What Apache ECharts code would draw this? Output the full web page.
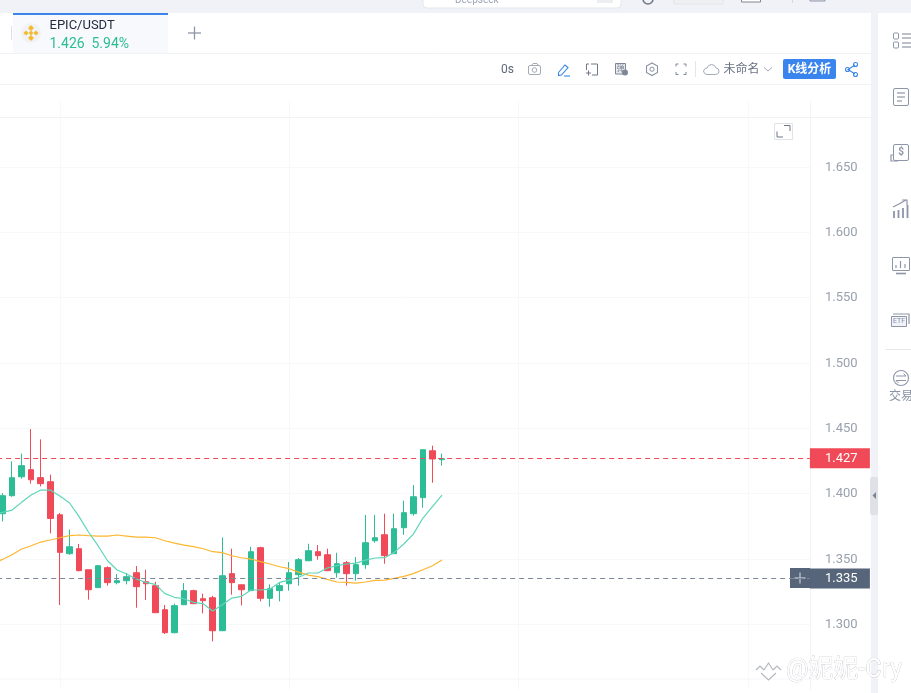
<!DOCTYPE html>
<html>
<head>
<meta charset="utf-8">
<title>EPIC/USDT</title>
<style>
html, body { margin: 0; padding: 0; background: #fff; overflow: hidden; }
#main { width: 911px; height: 693px; }
</style>
<script src="https://cdn.jsdelivr.net/npm/echarts@6/dist/echarts.min.js"></script>
</head>
<body>
<div id="main"></div>
<script>
// candle values, oldest first. the first one sits just off the left edge
var opens = [1.3790,
             1.3846,1.3984,1.4129,1.4183,1.4122,1.4091,1.3838,1.3540,1.3578,1.3417,1.3280,1.3433,1.3318,1.3333,1.3394,1.3325,1.3295,1.3111,1.2935,1.3149,1.3257,1.3195,1.3203,1.2950,
             1.3387,1.3302,1.3257,1.3586,1.3198,1.3257,1.3310,1.3379,1.3486,1.3555,1.3532,1.3394,1.3471,1.3387,1.3456,1.3639,1.3685,1.3540,1.3739,1.3846,1.3969,1.4328,1.4260];
var closes = [1.3846,
              1.3984,1.4122,1.4214,1.4106,1.4076,1.3810,1.3550,1.3593,1.3410,1.3264,1.3448,1.3318,1.3333,1.3364,1.3287,1.3310,1.3088,1.2935,1.3142,1.3257,1.3157,1.3180,1.2950,1.3371,
              1.3318,1.3264,1.3555,1.3198,1.3272,1.3295,1.3394,1.3494,1.3563,1.3525,1.3410,1.3463,1.3387,1.3456,1.3624,1.3662,1.3525,1.3731,1.3854,1.3976,1.4336,1.4265,1.4267];
var lows = [1.3770,
            1.3787,1.3976,1.4114,1.4076,1.4055,1.3696,1.3147,1.3532,1.3405,1.3188,1.3277,1.3295,1.3305,1.3305,1.3126,1.3185,1.3088,1.2925,1.2930,1.3149,1.3155,1.3083,1.2869,1.2950,
            1.3226,1.3144,1.3257,1.3175,1.3134,1.3175,1.3257,1.3295,1.3486,1.3494,1.3410,1.3356,1.3295,1.3333,1.3425,1.3624,1.3463,1.3540,1.3685,1.3831,1.3892,1.4083,1.4214];
var highs = [1.3880,
             1.4004,1.4247,1.4306,1.4494,1.4415,1.4145,1.3851,1.3724,1.3614,1.3417,1.3453,1.3443,1.3384,1.3392,1.3445,1.3417,1.3325,1.3147,1.3157,1.3315,1.3264,1.3234,1.3218,1.3665,
             1.3578,1.3302,1.3593,1.3593,1.3305,1.3320,1.3476,1.3507,1.3616,1.3606,1.3578,1.3547,1.3484,1.3514,1.3836,1.3836,1.3846,1.3846,1.3946,1.4066,1.4336,1.4367,1.4306];
var maFast = [1.3840,
              1.3856,1.3874,1.3933,1.3989,1.4027,1.4027,1.3981,1.3930,1.3826,1.3706,1.3601,1.3486,1.3415,1.3384,1.3346,1.3320,1.3305,1.3234,1.3206,1.3195,1.3167,1.3157,1.3101,1.3149,
              1.3200,1.3213,1.3262,1.3262,1.3269,1.3320,1.3338,1.3359,1.3392,1.3392,1.3430,1.3448,1.3461,1.3468,1.3491,1.3507,1.3509,1.3550,1.3614,1.3690,1.3813,1.3900,1.3989];
var maSlow = [1.3465,
              1.3496,1.3532,1.3576,1.3601,1.3629,1.3645,1.3662,1.3678,1.3683,1.3678,1.3675,1.3675,1.3683,1.3675,1.3667,1.3667,1.3662,1.3639,1.3621,1.3606,1.3594,1.3578,1.3555,1.3548,
              1.3524,1.3509,1.3499,1.3479,1.3461,1.3440,1.3425,1.3399,1.3376,1.3364,1.3343,1.3323,1.3320,1.3315,1.3323,1.3336,1.3338,1.3351,1.3366,1.3387,1.3417,1.3448,1.3491];
// the two price lines
var lastPrice = 1.427;
var crossPrice = 1.335;
var slotCount = 86;

var GREEN = '#2dbd96', RED = '#f04a58', GRAY = '#8d95a8', BAND = '#f0f2f7', LINE = '#f1f2f5', NONE = 'rgba(0,0,0,0)';
var FONT = 'Roboto, "Noto Sans CJK SC", sans-serif';

var slots = [];
for (let i = 0; i < slotCount; i++) {
    slots.push(String(i));
}
var candles = opens.map(function (o, i) {
    return [o, closes[i], lows[i], highs[i]];
});

//---- small helpers for the page furniture round the chart ----
function box(x, y, w, h, fill, r, stroke) {
    return { type: 'rect', silent: true, shape: { x: x, y: y, width: w, height: h, r: r || 0 },
        style: { fill: fill, stroke: stroke || null, lineWidth: stroke ? 1 : 0 } };
}
function seg(points, color, w) {
    return { type: 'polyline', silent: true, shape: { points: points },
        style: { fill: null, stroke: color || GRAY, lineWidth: w || 1.2 } };
}
function ring(cx, cy, r, color, w) {
    return { type: 'circle', silent: true, shape: { cx: cx, cy: cy, r: r },
        style: { fill: null, stroke: color || GRAY, lineWidth: w || 1.2 } };
}
function txt(x, y, s, size, color, weight, align) {
    return { type: 'text', silent: true, x: x, y: y,
        style: { text: s, fontSize: size, fill: color, fontFamily: FONT, fontWeight: weight || 'normal',
            textAlign: align || 'left', textVerticalAlign: 'middle' } };
}
function diamond(cx, cy, r, fill) {
    return { type: 'polygon', silent: true, shape: { points: [[cx, cy - r], [cx + r, cy], [cx, cy + r], [cx - r, cy]] },
        style: { fill: fill } };
}

function buildChrome() {
    let g = [];
    // bands that sit over the chart area
    g.push(box(0, 0, 911, 118, '#fff'));
    g.push(box(0, 0, 911, 13, BAND));
    g.push(box(871, 0, 7, 693, BAND));
    g.push(box(423, -8, 198, 16, '#fff', 4, '#e4e6eb'));
    g.push(txt(455, 0, 'Deepseek', 10, '#9aa3b5'));
    g.push(box(597, -3, 16, 6, '#eceef1'));
    g.push(ring(648, -1, 5, '#6f7788', 1.5));
    g.push(box(674, -6, 49, 10, '#eff0f3', 0, '#e2e4e9'));
    g.push(box(741.5, -6, 19, 8, '#fff', 0, '#7f8696'));
    g.push(box(810, -6, 15, 7, '#e4e6ea', 0, '#8d95a8'));
    g.push(seg([[792.5, 0], [792.5, 3]], '#d5d8de', 1));

    // tab row
    g.push(box(13, 13, 155, 40, '#f8f9fc'));
    g.push(box(13, 13, 155, 2, '#3a84ea'));
    g.push(seg([[0, 53.5], [871, 53.5]], LINE, 1));
    g.push(seg([[0, 84.5], [871, 84.5]], LINE, 1));
    g.push(seg([[0, 117.5], [871, 117.5]], LINE, 1));
    g.push(seg([[11.5, 26], [11.5, 40]], '#dfe1e6', 1));
    g.push({ type: 'circle', silent: true, shape: { cx: 31, cy: 33, r: 10 }, style: { fill: '#f1f2f5' } });
    g.push(diamond(31, 28, 3, '#f3ba2f'), diamond(31, 38, 3, '#f3ba2f'),
        diamond(26, 33, 2.6, '#f3ba2f'), diamond(36, 33, 2.6, '#f3ba2f'), diamond(31, 33, 2.4, '#f3ba2f'));
    g.push(txt(49.5, 25.5, 'EPIC/USDT', 13, '#232c3f'));
    g.push(txt(49.5, 44.5, '1.426', 14, GREEN), txt(91.5, 44.5, '5.94%', 14, GREEN));
    g.push(seg([[188, 33], [201, 33]], GRAY, 1.3), seg([[194.5, 26.5], [194.5, 39.5]], GRAY, 1.3));

    // toolbar
    g.push(txt(501, 69.5, '0s', 12, '#5d6679'));
    g.push(box(528.5, 65.5, 12, 9, NONE, 1.5, '#a3aab8'), ring(534.5, 70, 2.3, '#a3aab8', 1), seg([[531.5, 65.5], [533, 63.5], [537, 63.5], [538.5, 65.5]], '#a3aab8', 1));
    g.push(seg([[558.5, 72.5], [565, 65], [568, 67.5], [561.5, 75], [558.5, 75.5], [558.5, 72.5]], '#3a84ea', 1.1), seg([[564, 76], [570, 76]], '#3a84ea', 1.1));
    g.push(seg([[591, 64], [597.5, 64], [597.5, 75], [592, 75]], '#6f7788', 1), seg([[586.5, 70], [586.5, 64], [589, 64]], '#6f7788', 1), seg([[586, 73], [591, 73]], '#6f7788', 1), seg([[588.5, 70.5], [588.5, 75.5]], '#6f7788', 1));
    g.push(box(615.5, 63.5, 10, 10.5, '#e8eaee', 0, '#7f8696'), txt(620.5, 69, '弹', 8, '#7f8696', 'normal', 'center'), { type: 'circle', silent: true, shape: { cx: 625, cy: 72.5, r: 3 }, style: { fill: '#7f8696' } });
    g.push({ type: 'polygon', silent: true, shape: { points: [[652, 63], [657.5, 66], [657.5, 72.5], [652, 75.5], [646.5, 72.5], [646.5, 66]] }, style: { fill: NONE, stroke: '#8a92a3', lineWidth: 1.1 } }, ring(652, 69.2, 2.1, '#8a92a3', 1));
    g.push(seg([[676, 66.5], [676, 64], [678.5, 64]], '#7f8696', 1), seg([[683.5, 64], [686, 64], [686, 66.5]], '#7f8696', 1),
        seg([[676, 72], [676, 74.5], [678.5, 74.5]], '#7f8696', 1), seg([[683.5, 74.5], [686, 74.5], [686, 72]], '#7f8696', 1));
    g.push(seg([[695.5, 61], [695.5, 77]], '#e4e6ea', 1));
    g.push(seg([[707, 74.5], [704.5, 73.5], [703.5, 71], [705, 68.5], [707, 68], [708.5, 65.5], [711.5, 64.5], [714.5, 65.5], [716, 68], [718.5, 69], [719, 72], [717.5, 74], [715.5, 74.5], [707, 74.5]], '#a3aab8', 1));
    g.push(txt(723.5, 69.5, '未命名', 12, '#6a7385'));
    g.push(seg([[764, 67.5], [768, 71], [772, 67.5]], '#a3aab8', 1));
    g.push(box(783, 59, 53, 20, '#3a84ee', 2));
    g.push(txt(809.5, 69.5, 'K线分析', 12, '#fff', 'bold', 'center'));
    g.push(seg([[855, 65], [848, 69.5], [855, 74]], '#3a84ea', 1.1), ring(855.5, 64.5, 2, '#3a84ea', 1.1), ring(847.5, 69.5, 2, '#3a84ea', 1.1), ring(855.5, 74.5, 2, '#3a84ea', 1.1));

    // button in the corner of the pane
    g.push(box(774.5, 123.5, 18, 16, '#fff', 0, '#e1e3e8'));
    g.push(seg([[784, 125.5], [790, 125.5], [790, 131]], '#6f7788', 1), seg([[777, 131.5], [777, 137], [783, 137]], '#6f7788', 1));

    // crosshair button left of the price tag
    g.push(box(790, 568, 20, 20, '#56657a'));
    g.push(seg([[794.5, 578], [805.5, 578]], '#c6ccd6', 1.2), seg([[800, 572.5], [800, 583.5]], '#c6ccd6', 1.2));

    // bottom edge of the price pane
    g.push(seg([[0, 679], [815, 679]], '#f5f6f8', 1));

    // collapse handle
    g.push(box(870, 477, 8, 38, '#dfe1e6', 2));
    g.push({ type: 'polygon', silent: true, shape: { points: [[876, 492], [876, 499], [872.5, 495.5]] }, style: { fill: '#7a8296' } });

    // sidebar icons
    g.push(box(893.5, 33, 5, 6, NONE, 1, GRAY), box(893.5, 42, 5, 6, NONE, 1, GRAY));
    g.push(seg([[902, 34], [911, 34]]), seg([[902, 38], [911, 38]]), seg([[902, 43], [911, 43]]), seg([[902, 47], [911, 47]]));
    g.push(box(893.5, 88.5, 15, 17, NONE, 1.5, GRAY), seg([[897, 93], [905, 93]]), seg([[897, 97], [905, 97]]), seg([[897, 101], [902, 101]]));
    g.push(box(893.5, 144.5, 15, 16, NONE, 1.5, GRAY), txt(901, 152.5, '$', 10, GRAY, 'bold', 'center'), seg([[893, 155], [891, 155], [891, 161], [898, 161]]));
    g.push(seg([[893, 207], [899, 204], [906, 200]]), seg([[902, 200], [907, 200], [907, 205]]));
    g.push(seg([[894, 218], [894, 211]], GRAY, 1.8), seg([[898.5, 218], [898.5, 210]], GRAY, 1.8), seg([[903, 218], [903, 208]], GRAY, 1.8), seg([[907.5, 218], [907.5, 205]], GRAY, 1.8));
    g.push(box(892.5, 257.5, 17, 13, NONE, 0.5, GRAY), seg([[896, 268], [896, 265]]), seg([[900.5, 268], [900.5, 261]]), seg([[905, 268], [905, 264]]), seg([[896, 273.5], [906, 273.5]], GRAY, 1.6));
    g.push(box(891.5, 316.5, 15, 10, '#f2f3f6', 0, GRAY), txt(899, 321.5, 'ETF', 7, '#8090b0', 'normal', 'center'), seg([[893, 314], [909, 314], [909, 324]]));
    g.push(seg([[885, 349.5], [911, 349.5]], '#e6e8ec', 1));
    g.push(ring(901, 378, 7.5, GRAY, 1.1), seg([[896, 376], [906, 376], [903.5, 373.5]], GRAY, 1), seg([[906, 380.5], [896, 380.5], [898.5, 383]], GRAY, 1));
    g.push(txt(889, 397, '交易', 12, '#8a93a3'));

    // watermark
    g.push(seg([[756, 670], [760, 666], [764, 670]], '#b5b8bf', 1.2), seg([[764, 670], [768.5, 663], [773, 670]], '#b5b8bf', 1.2),
        seg([[773, 670], [777, 666], [781, 670]], '#b5b8bf', 1.2), seg([[761, 673], [768.5, 680], [776, 673]], '#b5b8bf', 1.2));
    g.push({ type: 'text', silent: true, x: 786, y: 671,
        style: { text: '@妮妮-Cry', fontSize: 25, fontFamily: FONT, fill: '#fff', stroke: '#bcbfc5', lineWidth: 0.6, textVerticalAlign: 'middle' } });
    return g;
}

var myChart = echarts.init(document.getElementById('main'), null, { renderer: 'canvas' });

// dashed price line, its colour is set per item
function priceLine(value, color, tagColor) {
    return {
        yAxis: value,
        lineStyle: { color: color, type: [5, 4], dashOffset: 0, width: 1, opacity: 1 },
        itemStyle: { color: color },
        label: {
            show: true, position: 'end', distance: 0,
            formatter: '{t|' + value.toFixed(3) + '}',
            rich: { t: { width: 45, height: 20, lineHeight: 20, padding: [0, 0, 0, 15], color: '#fff', fontSize: 13, fontFamily: FONT, backgroundColor: tagColor } },
            align: 'left', verticalAlign: 'middle'
        }
    };
}

myChart.setOption({
    animation: false,
    backgroundColor: '#fff',
    // left edge is off the page: one candle is hidden and the next is cut in half in the picture
    grid: { left: -11.85, width: 821.75, top: 101.8, bottom: 3.5, containLabel: false, outerBoundsMode: 'none' },
    xAxis: {
        type: 'category', data: slots, boundaryGap: true,
        axisLine: { show: false }, axisTick: { show: false }, axisLabel: { show: false },
        splitLine: { show: true, alignWithLabel: true, interval: function (i) { return i % 24 === 7; }, lineStyle: { color: '#f7f8fa', width: 1 } }
    },
    yAxis: {
        type: 'value', position: 'right', scale: true, min: 1.25, max: 1.7, interval: 0.05,
        axisLine: { show: true, lineStyle: { color: '#f3f4f6' } }, axisTick: { show: false },
        axisLabel: { margin: 15, showMinLabel: false, showMaxLabel: false,
            formatter: function (v) { return '{v|' + v.toFixed(3) + '}'; },
            rich: { v: { padding: [1, 0, 0, 0], color: '#9aa1ad', fontSize: 13, fontFamily: FONT } } },
        splitLine: { show: true, showMinLine: false, showMaxLine: false, lineStyle: { color: '#f7f8fa', width: 1 } }
    },
    series: [
        {
            type: 'candlestick', data: candles, barWidth: 6,
            itemStyle: { color: GREEN, color0: RED, borderColor: GREEN, borderColor0: RED, borderWidth: 1 },
            markLine: {
                silent: true, symbol: 'none', animation: false, precision: 4,
                data: [priceLine(lastPrice, RED, RED), priceLine(crossPrice, '#7d8799', '#56657a')]
            }
        },
        { type: 'line', data: maSlow, showSymbol: false, silent: true, lineStyle: { color: '#fdb62e', width: 1.2 } },
        { type: 'line', data: maFast, showSymbol: false, silent: true, lineStyle: { color: '#5ed5b9', width: 1.2 } }
    ],
    graphic: { elements: buildChrome() }
});
</script>
</body>
</html>
